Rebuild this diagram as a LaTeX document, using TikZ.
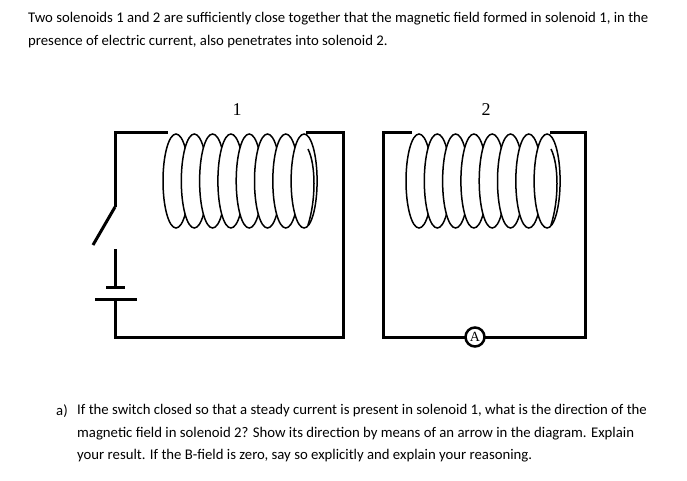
\documentclass[tikz,border=0pt]{standalone}
\usepackage{fontspec}
\setmainfont{Carlito}
\newfontfamily\tms{Liberation Serif}
\begin{document}
\begin{tikzpicture}[x=1pt,y=-1pt,
  wire/.style={line width=3pt},
  coil/.style={line width=1.5pt,fill=white},
  txt/.style={anchor=west,inner sep=0,font=\fontsize{14.75}{17}\selectfont}]
\useasboundingbox (0,0) rectangle (687,481);
\node[txt] (t1) at (28,19) {Two solenoids 1 and 2 are sufficiently close together that the magnetic field formed in solenoid 1, in the};
\node[txt] (t2) at (28,42) {presence of electric current, also penetrates into solenoid 2.};
\node[txt] (qa) at (56,411) {a)};
\node[txt] (q1) at (77,411) {If the switch closed so that a steady current is present in solenoid 1, what is the direction of the};
\node[txt] (q2) at (77,434) {magnetic field in solenoid 2? Show its direction by means of an arrow in the diagram. Explain};
\node[txt] (q3) at (77,456) {your result. If the B-field is zero, say so explicitly and explain your reasoning.};
\node[font=\tms\fontsize{18}{18}\selectfont] (l1) at (237,110) {1};
\node[font=\tms\fontsize{18}{18}\selectfont] (l2) at (486,110) {2};
% circuit 1
\coordinate (s1) at (115,207); \coordinate (s2) at (93,245);
\coordinate (b1) at (115,249);
\draw[wire] (s1) -- (115,133) -- (168,133);
\draw[wire] (306,133) -- (343,133) -- (343,337) -- (115,337) -- (115,299);
\draw[wire] (s1) -- (s2);
\draw[wire] (b1) -- (115,287);
\draw[wire] (106,287) -- (125,287);
\draw[wire] (95,299) -- (137,299);
\foreach \k in {0,...,7}{
  \draw[coil] (176+18.3*\k,181) ellipse (13 and 47);
}
\draw[line width=1.5pt] (308,149) .. controls (316,165) and (316,200) .. (308,225);
% circuit 2
\draw[wire] (412,133) -- (383,133) -- (383,337) -- (465,337);
\draw[wire] (485,337) -- (585,337) -- (585,133) -- (550,133);
\foreach \k in {0,...,7}{
  \draw[coil] (419+18.3*\k,181) ellipse (13 and 47);
}
\draw[line width=1.5pt] (551,149) .. controls (559,165) and (559,200) .. (551,225);
\node[draw,circle,line width=2.5pt,minimum size=19pt,inner sep=0,font=\tms\fontsize{14}{14}\selectfont] (am) at (475,337) {A};
\end{tikzpicture}
\end{document}
